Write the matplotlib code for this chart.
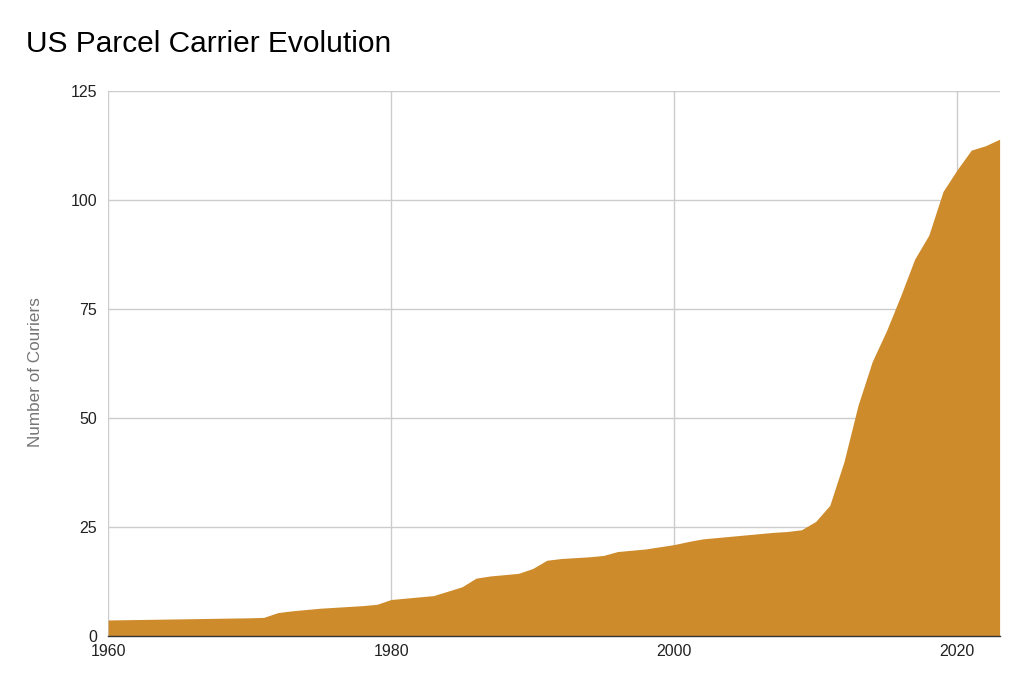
import numpy as np
import matplotlib
matplotlib.use("Agg")
import matplotlib.pyplot as plt

# yearly number of parcel couriers
years = list(range(1960, 2024))
couriers = [
    3.7, 3.75, 3.8, 3.85, 3.9, 3.95, 4.0, 4.05, 4.1, 4.15,   # 1960s
    4.2, 4.3, 5.4, 5.8, 6.1, 6.4, 6.6, 6.8, 7.0, 7.3,        # 1970s
    8.4, 8.7, 9.0, 9.3, 10.3, 11.3, 13.3, 13.8, 14.1, 14.4,  # 1980s
    15.5, 17.4, 17.8, 18.0, 18.2, 18.5, 19.4, 19.7, 20.0, 20.5,  # 1990s
    21.0, 21.7, 22.3, 22.6, 22.9, 23.2, 23.5, 23.8, 24.0, 24.4,  # 2000s
    26.3, 30.0, 40.0, 53.0, 63.0, 70.0, 78.0, 86.5, 92.0, 102.0, # 2010s
    107.0, 111.5, 112.5, 114.0,
]
x_ticks = [1960, 1980, 2000, 2020]
y_ticks = [0, 25, 50, 75, 100, 125]

plt.rcParams['font.family'] = ['Liberation Sans', 'DejaVu Sans']

fig = plt.figure(figsize=(10.2, 6.76), dpi=100)
ax = fig.add_axes([0.106, 0.059, 0.874, 0.806])

ax.fill_between(years, couriers, 0, color="#CE8B2B", linewidth=0, zorder=2)

ax.set_xlim(1960, 2023)
ax.set_ylim(0, 125)
ax.set_xticks(x_ticks)
ax.set_yticks(y_ticks)
ax.grid(True, color="#CCCCCC", linewidth=1, zorder=0)
ax.set_axisbelow(True)

for side in ["top", "right", "left"]:
    ax.spines[side].set_visible(False)
ax.spines["bottom"].set_color("#333333")
ax.spines["bottom"].set_linewidth(1)
ax.spines["bottom"].set_zorder(3)

ax.tick_params(axis="both", length=0, labelsize=11.5, labelcolor="#222222")
ax.tick_params(axis="x", pad=6)
ax.tick_params(axis="y", pad=8)

ax.set_ylabel("Number of Couriers", fontsize=12.3, color="#757575", va="center")
ax.yaxis.set_label_coords(-0.082, 0.484)
fig.text(0.025, 0.935, "US Parcel Carrier Evolution", fontsize=21.5, color="#000000",
         va="center", ha="left")

fig.savefig("out.png", dpi=100)
